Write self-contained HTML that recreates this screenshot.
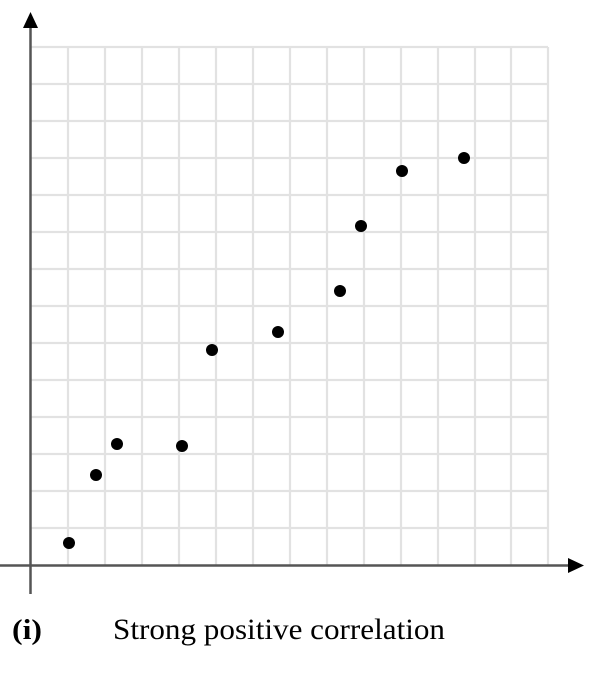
<!DOCTYPE html>
<html><head><style>body{margin:0;background:#fff}svg{display:block}</style></head><body>
<svg width="600" height="694" xmlns="http://www.w3.org/2000/svg">
<g stroke="#e2e2e2" stroke-width="2.2">
<line x1="68" y1="47" x2="68" y2="565"/><line x1="105" y1="47" x2="105" y2="565"/><line x1="142" y1="47" x2="142" y2="565"/><line x1="179" y1="47" x2="179" y2="565"/><line x1="216" y1="47" x2="216" y2="565"/><line x1="253" y1="47" x2="253" y2="565"/><line x1="290" y1="47" x2="290" y2="565"/><line x1="327" y1="47" x2="327" y2="565"/><line x1="364" y1="47" x2="364" y2="565"/><line x1="401" y1="47" x2="401" y2="565"/><line x1="438" y1="47" x2="438" y2="565"/><line x1="475" y1="47" x2="475" y2="565"/><line x1="511" y1="47" x2="511" y2="565"/><line x1="548" y1="47" x2="548" y2="565"/>
<line x1="31" y1="47" x2="548" y2="47"/><line x1="31" y1="84" x2="548" y2="84"/><line x1="31" y1="121" x2="548" y2="121"/><line x1="31" y1="158" x2="548" y2="158"/><line x1="31" y1="195" x2="548" y2="195"/><line x1="31" y1="232" x2="548" y2="232"/><line x1="31" y1="269" x2="548" y2="269"/><line x1="31" y1="306" x2="548" y2="306"/><line x1="31" y1="343" x2="548" y2="343"/><line x1="31" y1="380" x2="548" y2="380"/><line x1="31" y1="417" x2="548" y2="417"/><line x1="31" y1="454" x2="548" y2="454"/><line x1="31" y1="491" x2="548" y2="491"/><line x1="31" y1="528" x2="548" y2="528"/>
</g>
<g stroke="#555" stroke-width="2.5">
<line x1="30.5" y1="24" x2="30.5" y2="594"/>
<line x1="0" y1="565.5" x2="570" y2="565.5"/>
</g>
<polygon points="30.5,12 23,28 38,28" fill="#000"/>
<polygon points="584,565.5 568,558 568,573" fill="#000"/>
<g fill="#000">
<circle cx="69" cy="543" r="6"/><circle cx="96" cy="475" r="6"/><circle cx="117" cy="444" r="6"/><circle cx="182" cy="446" r="6"/><circle cx="212" cy="350" r="6"/><circle cx="278" cy="332" r="6"/><circle cx="340" cy="291" r="6"/><circle cx="361" cy="226" r="6"/><circle cx="402" cy="171" r="6"/><circle cx="464" cy="158" r="6"/>
</g>
<text x="12" y="639" font-family="Liberation Serif, serif" font-size="28" font-weight="bold" textLength="30" lengthAdjust="spacingAndGlyphs">(i)</text>
<text x="113" y="639" font-family="Liberation Serif, serif" font-size="30" textLength="332" lengthAdjust="spacingAndGlyphs">Strong positive correlation</text>
</svg>
</body></html>
